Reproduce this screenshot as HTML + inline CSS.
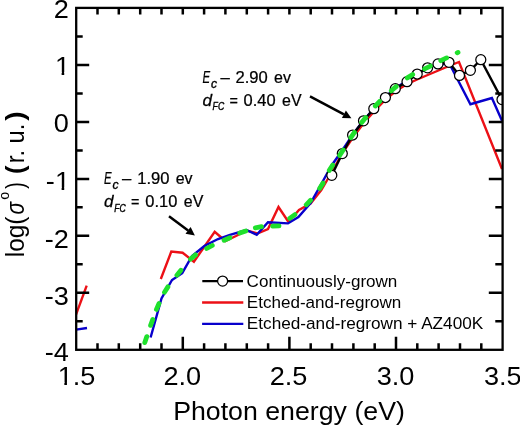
<!DOCTYPE html>
<html lang="en"><head><meta charset="utf-8"><title>Photon energy plot</title>
<style>
html,body{margin:0;padding:0;background:#fff;}
body{width:520px;height:426px;overflow:hidden;}
svg{display:block;}
text{font-family:"Liberation Sans",Arial,sans-serif;fill:#000;}
.ax{stroke:#000;stroke-width:2.3;fill:none;}
.tc{stroke:#000;stroke-width:2.5;fill:none;}
</style></head><body>
<svg width="520" height="426" viewBox="0 0 520 426">
<rect x="0" y="0" width="520" height="426" fill="#fff"/>
<defs><clipPath id="pa"><rect x="76.2" y="7.9" width="426.4" height="341.9"/></clipPath></defs>

<g clip-path="url(#pa)" fill="none" stroke-linejoin="miter">
<polyline points="76.0,314.6 86.7,285.6" stroke="#ec1016" stroke-width="2.4"/>
<polyline points="160.8,279.0 171.3,251.6 182.6,252.7 193.9,261.7 214.7,231.8 225.4,241.0 236.0,236.0 246.7,230.5 257.4,233.5 268.0,229.0 278.5,207.0 288.5,222.0 299.0,210.0 310.6,203.5 321.3,190.0 331.9,172.0 342.5,153.0 353.2,137.0 363.8,123.0 374.5,111.0 385.1,100.0 395.8,91.0 406.4,84.5 417.1,79.5 427.7,75.0 438.4,70.5 449.0,66.0 459.0,62.0 502.0,169.0" stroke="#ec1016" stroke-width="2.4"/>
<polyline points="76.0,329.6 87.0,328.0" stroke="#0800cc" stroke-width="2.4"/>
<polyline points="150.6,337.5 161.5,298.5 172.0,280.0 182.2,273.2 192.0,256.0 204.3,246.0 218.0,239.0 230.0,234.8 246.3,230.0 256.7,234.7 268.0,222.2 288.0,223.4 298.4,217.0 310.6,203.0 321.3,184.0 331.9,165.0 342.5,150.0 353.2,134.0 363.8,120.0 374.5,108.0 385.1,97.0 395.8,88.0 406.4,81.0 417.1,74.0 427.7,68.0 438.4,64.0 449.6,63.9 470.4,104.2 491.9,98.0 502.0,120.8" stroke="#0800cc" stroke-width="2.4"/>
<polyline points="331.8,175.3 342.3,153.6 352.6,135.0 363.5,120.8 373.8,108.7 385.4,97.5 395.3,88.7 407.0,81.7 417.2,74.0 427.6,67.8 438.0,63.9 449.0,62.3 459.5,75.4 470.4,70.3 480.8,59.7 502.0,99.6" stroke="#000" stroke-width="2.4"/>
<circle cx="331.8" cy="175.3" r="5" fill="#fff" stroke="#000" stroke-width="1.25"/>
<circle cx="342.3" cy="153.6" r="5" fill="#fff" stroke="#000" stroke-width="1.25"/>
<circle cx="352.6" cy="135" r="5" fill="#fff" stroke="#000" stroke-width="1.25"/>
<circle cx="363.5" cy="120.8" r="5" fill="#fff" stroke="#000" stroke-width="1.25"/>
<circle cx="373.8" cy="108.7" r="5" fill="#fff" stroke="#000" stroke-width="1.25"/>
<circle cx="385.4" cy="97.5" r="5" fill="#fff" stroke="#000" stroke-width="1.25"/>
<circle cx="395.3" cy="88.7" r="5" fill="#fff" stroke="#000" stroke-width="1.25"/>
<circle cx="407" cy="81.7" r="5" fill="#fff" stroke="#000" stroke-width="1.25"/>
<circle cx="417.2" cy="74" r="5" fill="#fff" stroke="#000" stroke-width="1.25"/>
<circle cx="427.6" cy="67.8" r="5" fill="#fff" stroke="#000" stroke-width="1.25"/>
<circle cx="438" cy="63.9" r="5" fill="#fff" stroke="#000" stroke-width="1.25"/>
<circle cx="449" cy="62.3" r="5" fill="#fff" stroke="#000" stroke-width="1.25"/>
<circle cx="459.5" cy="75.4" r="5" fill="#fff" stroke="#000" stroke-width="1.25"/>
<circle cx="470.4" cy="70.3" r="5" fill="#fff" stroke="#000" stroke-width="1.25"/>
<circle cx="480.8" cy="59.7" r="5" fill="#fff" stroke="#000" stroke-width="1.25"/>
<circle cx="502" cy="99.6" r="5" fill="#fff" stroke="#000" stroke-width="1.25"/>
<path d="M144.8,342.6L146.8,336.6M150.6,325.4L152.8,319.4M156.4,309.4L159.0,303.6M164.5,292.3L167.9,286.9M176.9,275.2L180.9,270.2M190.5,259.1L195.5,254.9M206.7,248.5L212.3,245.5M224.1,240.3L229.9,237.7M239.8,233.1L245.8,230.9M255.3,227.9L261.5,226.7M272.6,226.2L279.0,225.8M289.7,218.4L294.9,214.6M306.2,204.8L310.6,200.2M319.6,188.5L323.0,183.1M329.3,170.4L332.7,165.0M339.6,155.4L343.2,150.0M350.8,137.6L354.4,132.4M361.7,122.5L365.7,117.5M375.3,106.0L379.7,101.4M391.3,90.8L396.1,86.6M407.3,77.9L412.7,74.5M424.6,68.9L430.4,66.1M440.8,60.7L446.6,57.9M457.2,52.8L458.0,52.4" stroke="#1fe02c" stroke-width="4.8" stroke-linecap="round"/>
</g>
<rect class="ax" x="76.2" y="7.9" width="426.40000000000003" height="341.90000000000003"/>
<path class="tc" d="M97.5,349.8v-6.5M97.5,7.9v6.5M118.8,349.8v-6.5M118.8,7.9v6.5M140.2,349.8v-6.5M140.2,7.9v6.5M161.5,349.8v-6.5M161.5,7.9v6.5M182.8,349.8v-13M182.8,7.9v6.5M204.1,349.8v-6.5M204.1,7.9v6.5M225.4,349.8v-6.5M225.4,7.9v6.5M246.8,349.8v-6.5M246.8,7.9v6.5M268.1,349.8v-6.5M268.1,7.9v6.5M289.4,349.8v-13M289.4,7.9v6.5M310.7,349.8v-6.5M310.7,7.9v6.5M332.0,349.8v-6.5M332.0,7.9v6.5M353.4,349.8v-6.5M353.4,7.9v6.5M374.7,349.8v-6.5M374.7,7.9v6.5M396.0,349.8v-13M396.0,7.9v6.5M417.3,349.8v-6.5M417.3,7.9v6.5M438.6,349.8v-6.5M438.6,7.9v6.5M460.0,349.8v-6.5M460.0,7.9v6.5M481.3,349.8v-6.5M481.3,7.9v6.5M76.2,36.4h6.5M502.6,36.4h-7.3M76.2,64.9h13M502.6,64.9h-13.8M76.2,93.4h6.5M502.6,93.4h-7.3M76.2,121.9h13M502.6,121.9h-13.8M76.2,150.4h6.5M502.6,150.4h-7.3M76.2,178.9h13M502.6,178.9h-13.8M76.2,207.3h6.5M502.6,207.3h-7.3M76.2,235.8h13M502.6,235.8h-13.8M76.2,264.3h6.5M502.6,264.3h-7.3M76.2,292.8h13M502.6,292.8h-13.8M76.2,321.3h6.5M502.6,321.3h-7.3"/>
<text transform="translate(76.5,385.0) scale(1.06,1)" font-size="25.6" text-anchor="middle">1.5</text>
<text transform="translate(182.3,385.0) scale(1.06,1)" font-size="25.6" text-anchor="middle">2.0</text>
<text transform="translate(288.5,385.0) scale(1.06,1)" font-size="25.6" text-anchor="middle">2.5</text>
<text transform="translate(395.5,385.0) scale(1.06,1)" font-size="25.6" text-anchor="middle">3.0</text>
<text transform="translate(502.8,385.0) scale(1.06,1)" font-size="25.6" text-anchor="middle">3.5</text>
<text transform="translate(68.9,18.2) scale(1.06,1)" font-size="25.6" text-anchor="end">2</text>
<text transform="translate(70.0,74.9) scale(1.06,1)" font-size="25.6" text-anchor="end">1</text>
<text transform="translate(68.9,132.2) scale(1.06,1)" font-size="25.6" text-anchor="end">0</text>
<text transform="translate(70.0,190.2) scale(1.06,1)" font-size="25.6" text-anchor="end">-1</text>
<text transform="translate(68.9,247.5) scale(1.06,1)" font-size="25.6" text-anchor="end">-2</text>
<text transform="translate(68.9,305.2) scale(1.06,1)" font-size="25.6" text-anchor="end">-3</text>
<text transform="translate(68.9,361.3) scale(1.06,1)" font-size="25.6" text-anchor="end">-4</text>
<text transform="translate(289.0,420.0) scale(1.028,1)" font-size="26" text-anchor="middle">Photon energy (eV)</text>
<g transform="translate(23.6,257.3) rotate(-90)">
<text transform="translate(0.00,0.0) scale(0.927,1)" font-size="26.4">log(</text>
<text transform="translate(42.80,0.0) scale(0.787,1)" font-size="26.4" font-style="italic">σ</text>
<text transform="translate(57.60,-14.6) scale(0.917,1)" font-size="15.5">o</text>
<text transform="translate(68.50,0.0) scale(0.739,1)" font-size="26.4">)</text>
<text transform="translate(83.30,0.0) scale(0.967,1)" font-size="26.4" font-weight="bold">(</text>
<text transform="translate(94.10,0.0) scale(0.898,1)" font-size="26.4">r. u.</text>
<text transform="translate(136.50,0.0) scale(1.058,1)" font-size="26.4" font-weight="bold">)</text>
</g>
<path d="M202.3,281.1H243" stroke="#000" stroke-width="2.4"/>
<circle cx="222.6" cy="281.1" r="5" fill="#fff" stroke="#000" stroke-width="1.25"/>
<path d="M202.1,302.5H243.3" stroke="#ec1016" stroke-width="2.4"/>
<path d="M202.1,323.9H243.3" stroke="#0800cc" stroke-width="2.4"/>
<text transform="translate(246.6,286.7) scale(1.022,1)" font-size="16.7" text-anchor="start">Continuously-grown</text>
<text transform="translate(246.8,308.0) scale(1.022,1)" font-size="16.7" text-anchor="start">Etched-and-regrown</text>
<text transform="translate(246.8,329.2) scale(1.03,1)" font-size="16.7" text-anchor="start">Etched-and-regrown + AZ400K</text>
<text transform="translate(202.40,83.0) scale(0.702,1)" font-size="16.2" font-style="italic" stroke="#000" stroke-width="0.25">E</text><text transform="translate(210.90,87.7) scale(0.976,1)" font-size="12.5" font-style="italic" stroke="#000" stroke-width="0.35">c</text><text transform="translate(220.40,83.0) scale(1.014,1)" font-size="16.5" stroke="#000" stroke-width="0.25">–</text><text transform="translate(235.50,83.0) scale(1.025,1)" font-size="16.2" stroke="#000" stroke-width="0.25">2.90</text><text transform="translate(274.00,83.0) scale(0.953,1)" font-size="16.8" stroke="#000" stroke-width="0.25">ev</text><text transform="translate(202.40,105.5) scale(1.040,1)" font-size="16.5" font-style="italic" stroke="#000" stroke-width="0.25">d</text><text transform="translate(212.60,110.3) scale(0.802,1)" font-size="10.8" font-style="italic" stroke="#000" stroke-width="0.4">FC</text><text transform="translate(229.40,105.5) scale(0.872,1)" font-size="16.5" stroke="#000" stroke-width="0.25">=</text><text transform="translate(243.60,105.5) scale(1.015,1)" font-size="16.2" stroke="#000" stroke-width="0.25">0.40</text><text transform="translate(282.10,105.5) scale(0.949,1)" font-size="16.8" stroke="#000" stroke-width="0.25">eV</text>
<text transform="translate(104.10,183.8) scale(0.702,1)" font-size="16.2" font-style="italic" stroke="#000" stroke-width="0.25">E</text><text transform="translate(112.60,188.5) scale(0.976,1)" font-size="12.5" font-style="italic" stroke="#000" stroke-width="0.35">c</text><text transform="translate(122.10,183.8) scale(1.014,1)" font-size="16.5" stroke="#000" stroke-width="0.25">–</text><text transform="translate(137.20,183.8) scale(1.025,1)" font-size="16.2" stroke="#000" stroke-width="0.25">1.90</text><text transform="translate(175.70,183.8) scale(0.953,1)" font-size="16.8" stroke="#000" stroke-width="0.25">ev</text><text transform="translate(104.10,206.8) scale(1.040,1)" font-size="16.5" font-style="italic" stroke="#000" stroke-width="0.25">d</text><text transform="translate(114.30,211.6) scale(0.802,1)" font-size="10.8" font-style="italic" stroke="#000" stroke-width="0.4">FC</text><text transform="translate(131.10,206.8) scale(0.872,1)" font-size="16.5" stroke="#000" stroke-width="0.25">=</text><text transform="translate(145.30,206.8) scale(1.015,1)" font-size="16.2" stroke="#000" stroke-width="0.25">0.10</text><text transform="translate(183.80,206.8) scale(0.949,1)" font-size="16.8" stroke="#000" stroke-width="0.25">eV</text>
<rect x="59.00" y="382.24" width="5.35" height="3.46" fill="#fff"/><rect x="66.95" y="382.24" width="6.30" height="3.46" fill="#fff"/>
<rect x="56.27" y="72.14" width="5.35" height="3.46" fill="#fff"/><rect x="64.22" y="72.14" width="6.30" height="3.46" fill="#fff"/>
<rect x="56.27" y="187.44" width="5.35" height="3.46" fill="#fff"/><rect x="64.22" y="187.44" width="6.30" height="3.46" fill="#fff"/>
<path d="M310.0,96.3L343.9,114.3" stroke="#000" stroke-width="2.5" fill="none"/><path d="M351.4,118.3L341.9,118.1L345.9,110.6Z" fill="#000"/>
<path d="M169.0,216.3L188.1,230.4" stroke="#000" stroke-width="2.5" fill="none"/><path d="M194.9,235.4L185.5,233.8L190.6,226.9Z" fill="#000"/>
</svg></body></html>
